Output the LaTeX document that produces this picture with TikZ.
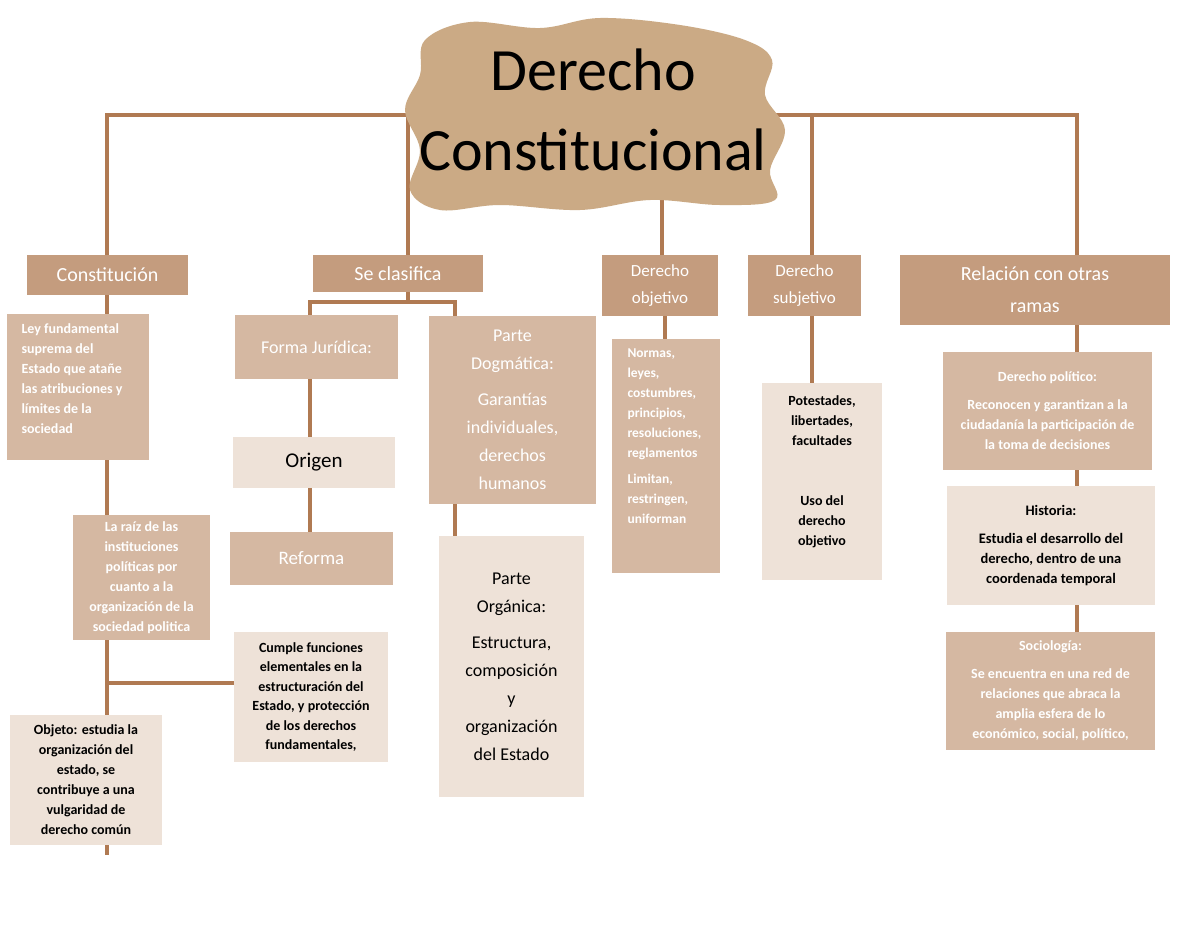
\documentclass[tikz,border=0pt]{standalone}
\usepackage{fontspec}
\setmainfont{Carlito}
\definecolor{dk}{HTML}{C49C7E}
\definecolor{lt}{HTML}{D5B8A2}
\definecolor{pl}{HTML}{EEE2D8}
\definecolor{ln}{HTML}{B07A52}
\definecolor{pap}{HTML}{CBAA85}
\begin{document}
\begin{tikzpicture}[x=1pt,y=-1pt,
 cn/.style={ln,line width=4pt}]
\useasboundingbox (0,0) rectangle (1200,927);
\fill[white] (0,0) rectangle (1200,927);
% lines
\draw[cn] (107,255) -- (107,115) -- (1077,115) -- (1077,255);
\draw[cn] (408,115) -- (408,255);
\draw[cn] (662,170) -- (662,255);
\draw[cn] (812,115) -- (812,255);
\draw[cn] (107,295) -- (107,855);
\draw[cn] (107,683) -- (234,683);
\draw[cn] (408,292) -- (408,302);
\draw[cn] (310,315) -- (310,302) -- (455,302) -- (455,316);
\draw[cn] (310,379) -- (310,532);
\draw[cn] (455,504) -- (455,536);
\draw[cn] (665,316) -- (665,339);
\draw[cn] (812,316) -- (812,383);
\draw[cn] (1077,325) -- (1077,632);
% title blob
\fill[pap] plot[smooth cycle,tension=0.6] coordinates {(425,40) (470,22) (540,28) (600,18) (680,25) (745,40) (772,60) (765,95) (785,130) (770,170) (775,200) (720,205) (650,200) (580,210) (500,205) (440,210) (410,190) (420,150) (405,110) (420,75)};
\node[font=\fontsize{60}{80}\selectfont,align=center] (title) at (593,110) {Derecho\\Constitucional};
% boxes
\newcommand{\bx}[8]{\fill[#5] (#2,#3) rectangle (#4,#6); \node[#7,align=center] (#1) at ({(#2+#4)/2},{(#3+#6)/2}) {#8};}
\bx{con}{27}{255}{188}{dk}{295}{white,font=\fontsize{20}{24}\selectfont,text width=150pt,align=left}{Constitución}
\bx{sec}{313}{255}{483}{dk}{292}{white,font=\fontsize{20}{24}\selectfont}{Se clasifica}
\bx{dob}{602}{255}{718}{dk}{316}{white,font=\fontsize{17}{27}\selectfont}{Derecho\\objetivo}
\bx{dsu}{748}{255}{861}{dk}{316}{white,font=\fontsize{17}{27}\selectfont}{Derecho\\subjetivo}
\bx{rel}{900}{255}{1170}{dk}{325}{white,font=\fontsize{20}{32}\selectfont}{Relación con otras\\ramas}
\fill[lt] (7,314) rectangle (149,460);
\node[white,font=\bfseries\fontsize{14}{20}\selectfont,align=left,anchor=north west] (ley) at (18,320) {Ley fundamental\\suprema del\\Estado que atañe\\las atribuciones y\\límites de la\\sociedad};
\bx{raiz}{73}{515}{210}{lt}{640}{white,font=\bfseries\fontsize{14}{20}\selectfont}{La raíz de las\\instituciones\\políticas por\\cuanto a la\\organización de la\\sociedad politica}
\bx{obj}{10}{715}{162}{pl}{845}{black,font=\bfseries\fontsize{14}{20}\selectfont}{Objeto: estudia la\\organización del\\estado, se\\contribuye a una\\vulgaridad de\\derecho común}
\bx{cum}{234}{632}{388}{pl}{762}{black,font=\bfseries\fontsize{14}{19.5}\selectfont}{Cumple funciones\\elementales en la\\estructuración del\\Estado, y protección\\de los derechos\\fundamentales,}
\bx{for}{235}{315}{398}{lt}{379}{white,font=\fontsize{18}{22}\selectfont}{Forma Jurídica:}
\bx{ori}{233}{437}{395}{pl}{488}{black,font=\fontsize{21}{24}\selectfont}{Origen}
\bx{ref}{230}{532}{393}{lt}{585}{white,font=\fontsize{19}{22}\selectfont}{Reforma}
\bx{dog}{429}{316}{596}{lt}{504}{white,font=\fontsize{18}{28}\selectfont}{Parte\\Dogmática:\\[8pt]Garantías\\individuales,\\derechos\\humanos}
\bx{org}{439}{536}{584}{pl}{797}{black,font=\fontsize{18}{28}\selectfont}{Parte\\Orgánica:\\[8pt]Estructura,\\composición\\y\\organización\\del Estado}
\fill[lt] (612,339) rectangle (720,573);
\node[white,font=\bfseries\fontsize{13.5}{20}\selectfont,align=left,anchor=north west] (nor) at (624,345) {Normas,\\leyes,\\costumbres,\\principios,\\resoluciones,\\reglamentos\\[6pt]Limitan,\\restringen,\\uniforman};
\fill[pl] (762,383) rectangle (882,580);
\node[black,font=\bfseries\fontsize{14}{20}\selectfont,align=center] (pot) at (822,421) {Potestades,\\libertades,\\facultades};
\node[black,font=\bfseries\fontsize{14}{20}\selectfont,align=center] (uso) at (822,522) {Uso del\\derecho\\objetivo};
\bx{dpo}{943}{352}{1152}{lt}{470}{white,font=\bfseries\fontsize{14}{20}\selectfont}{Derecho político:\\[8pt]Reconocen y garantizan a la\\ciudadanía la participación de\\la toma de decisiones}
\bx{his}{947}{486}{1155}{pl}{605}{black,font=\bfseries\fontsize{14.5}{20}\selectfont}{Historia:\\[8pt]Estudia el desarrollo del\\derecho, dentro de una\\coordenada temporal}
\bx{soc}{946}{632}{1155}{lt}{750}{white,font=\bfseries\fontsize{14}{20}\selectfont}{Sociología:\\[8pt]Se encuentra en una red de\\relaciones que abraca la\\amplia esfera de lo\\económico, social, político,}
\end{tikzpicture}
\end{document}
